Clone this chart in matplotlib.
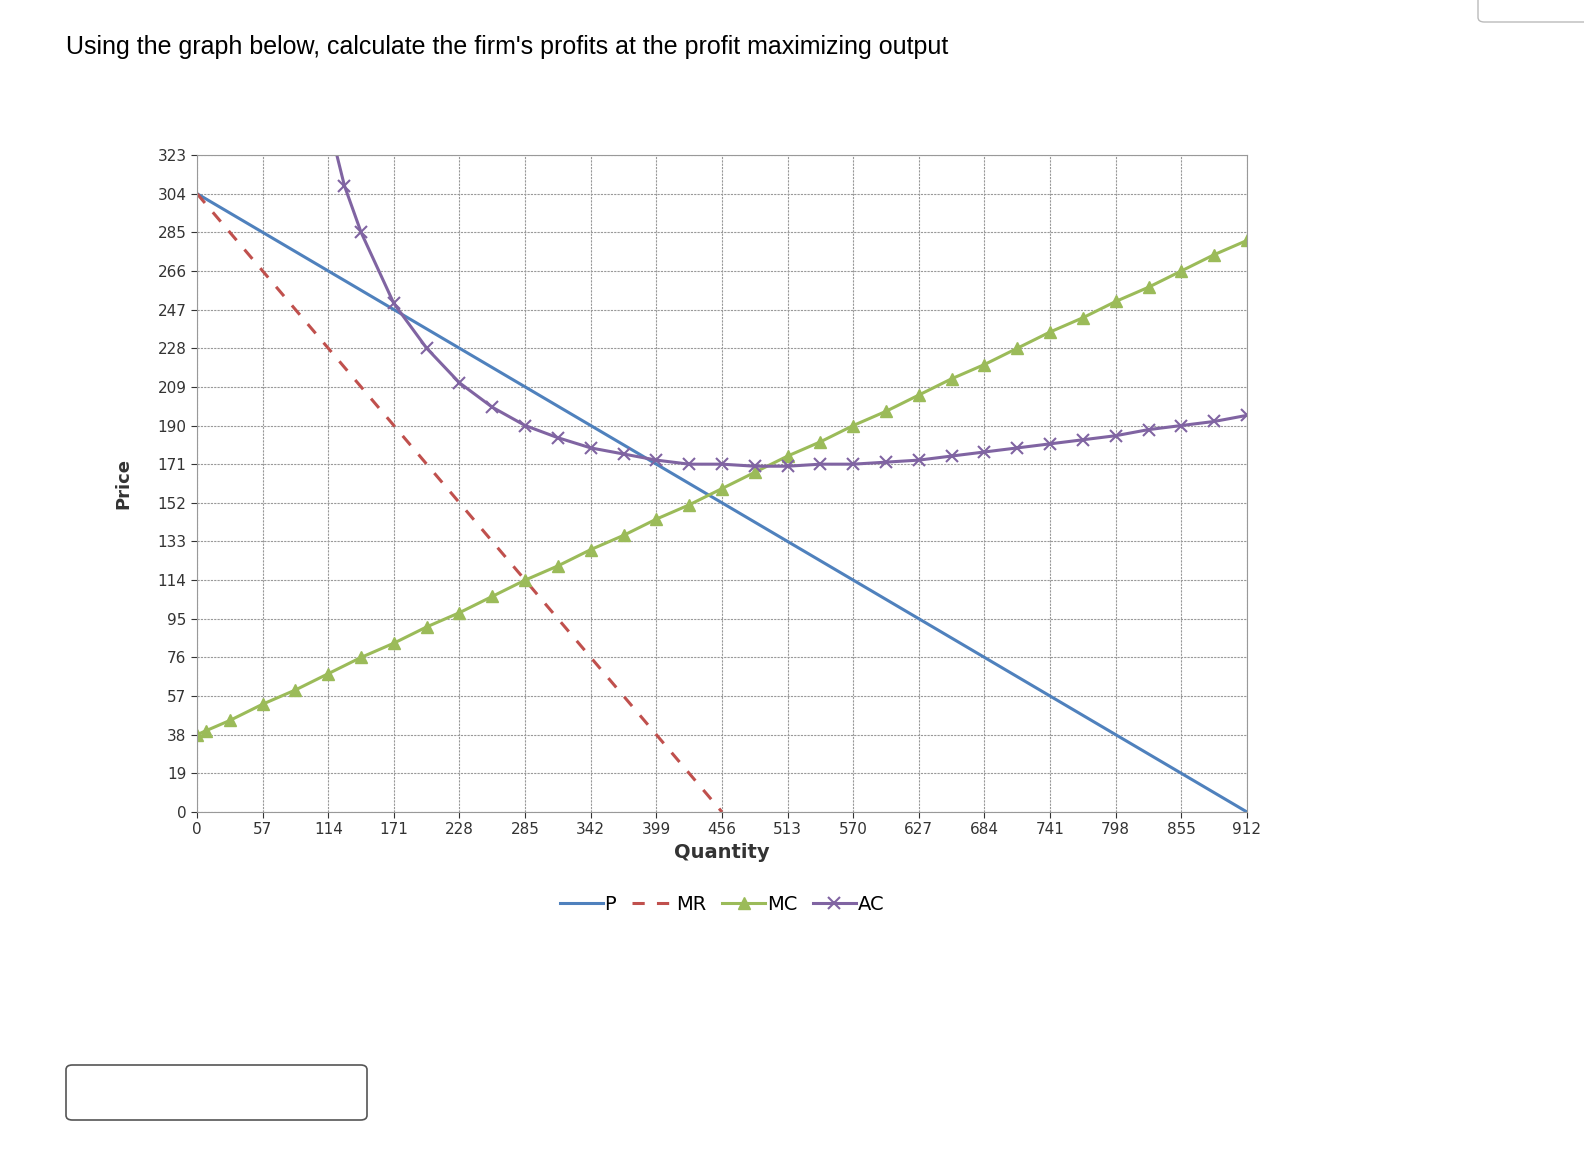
import matplotlib.pyplot as plt
import matplotlib.patches as mpatches
import numpy as np

q_p = [0, 912]
p_vals = [304, 0]
q_mr = [0, 456]
mr_vals = [304, 0]
q_mc = [0, 8, 28.5, 57, 85.5, 114, 142.5, 171, 199.5, 228, 256.5, 285, 313.5, 342, 370.5, 399, 427.5, 456,
        484.5, 513, 541.5, 570, 598.5, 627, 655.5, 684, 712.5, 741, 769.5, 798, 826.5, 855, 883.5, 912]
mc_vals = [38, 40, 45, 53, 60, 68, 76, 83, 91, 98, 106, 114, 121, 129, 136, 144, 151, 159,
           167, 175, 182, 190, 197, 205, 213, 220, 228, 236, 243, 251, 258, 266, 274, 281]
q_ac = [114, 128, 142.5, 171, 199.5, 228, 256.5, 285, 313.5, 342, 370.5, 399, 427.5, 456, 484.5, 513,
        541.5, 570, 598.5, 627, 655.5, 684, 712.5, 741, 769.5, 798, 826.5, 855, 883.5, 912]
ac_vals = [340, 308, 285, 250, 228, 211, 199, 190, 184, 179, 176, 173, 171, 171, 170, 170,
           171, 171, 172, 173, 175, 177, 179, 181, 183, 185, 188, 190, 192, 195]
xticks = list(range(0, 913, 57))
yticks = list(range(0, 324, 19))

fig = plt.figure(figsize=(15.84, 11.68), dpi=100)
fig.text(66/1584, 1-47/1168, "Using the graph below, calculate the firm's profits at the profit maximizing output",
         fontsize=18, va='center', ha='left', family='Liberation Sans')
fig.add_artist(mpatches.FancyBboxPatch((66/1584, 1-1120/1168), 301/1584, 55/1168,
               boxstyle='round,pad=0,rounding_size=0.004', transform=fig.transFigure,
               fc='white', ec='#555555', lw=1.2))
fig.add_artist(mpatches.FancyBboxPatch((1478/1584, 1-22/1168), 120/1584, 40/1168,
               boxstyle='round,pad=0,rounding_size=0.004', transform=fig.transFigure,
               fc='white', ec='#bbbbbb', lw=1))

ax = fig.add_axes([197/1584, 1-812/1168, 1050/1584, 657/1168])
ax.plot(q_p, p_vals, color='#4F81BD', lw=2.2, label='P')
ax.plot(q_mr, mr_vals, color='#C0504D', lw=2.2, ls=(0, (4, 4)), label='MR')
ax.plot(q_mc, mc_vals, color='#9BBB59', lw=2.2, marker='^', ms=8, label='MC')
ax.plot(q_ac, ac_vals, color='#8064A2', lw=2.2, marker='x', ms=8, mew=1.5, label='AC')
ax.set_xlim(0, 912)
ax.set_ylim(0, 323)
ax.set_xticks(xticks)
ax.set_yticks(yticks)
ax.tick_params(labelsize=11, length=4, colors='#333333')
ax.grid(True, color='#999999', ls=(0, (2, 1)), lw=0.8)
for s in ax.spines.values():
    s.set_color('#999999')
ax.set_xlabel('Quantity', fontsize=14, fontweight='bold', color='#333333')
ax.set_ylabel('Price', fontsize=13, fontweight='bold', color='#333333', labelpad=18)
ax.set_clip_on(True)
ax.legend(loc='upper center', bbox_to_anchor=(0.5, -0.1), ncol=4, frameon=False, fontsize=14,
          handlelength=2.2, handletextpad=0.1, columnspacing=0.8)
fig.savefig('out.png')
